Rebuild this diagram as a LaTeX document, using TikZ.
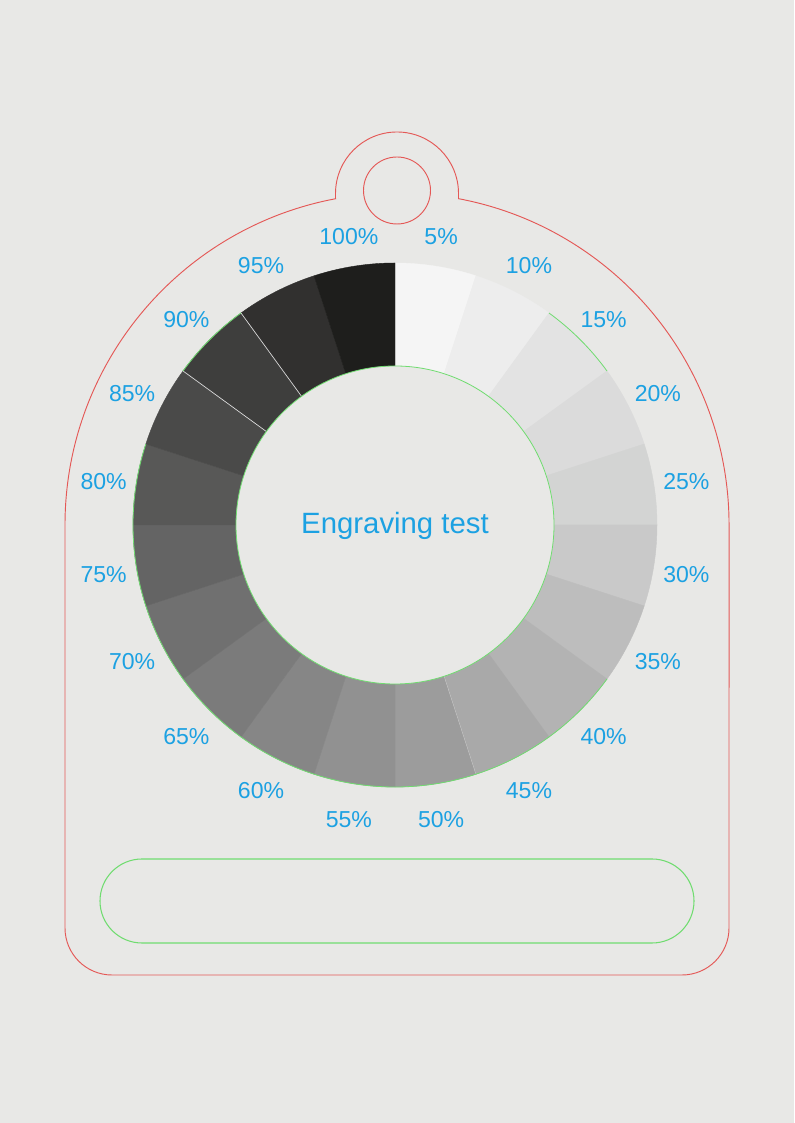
\documentclass[tikz,border=0pt]{standalone}
\usepackage{fontspec}
\setmainfont{Liberation Sans}
\usetikzlibrary{calc}
\definecolor{bg}{HTML}{E8E8E6}
\definecolor{cutred}{RGB}{228,88,86}
\definecolor{markgreen}{RGB}{112,220,112}
\definecolor{labelblue}{RGB}{28,161,226}
\tikzset{
  cutline/.style={draw=cutred, line width=0.7pt},
  markline/.style={draw=markgreen, line width=0.8pt},
  pctlabel/.style={text=labelblue, font=\fontsize{17.3}{17.3}\selectfont, inner sep=0pt},
  titlelabel/.style={text=labelblue, font=\fontsize{22}{22}\selectfont, inner sep=0pt},
}
\begin{document}
\begin{tikzpicture}[x=0.75pt,y=0.75pt]
\fill[bg] (0,0) rectangle (794,1123);
\useasboundingbox (0,0) rectangle (794,1123);
% outer tag outline
\path[cutline] (335.5,924.3) -- (335.5,929.5) arc[start angle=180,end angle=0,radius=61.5]
  -- (458.5,924.3) arc[start angle=79.33,end angle=0,radius=332]
  -- (729,195) arc[start angle=0,end angle=-90,radius=47]
  -- (112,148) arc[start angle=270,end angle=180,radius=47]
  -- (65,598) arc[start angle=180,end angle=100.67,radius=332] -- cycle;
% hole
\path[cutline] (397,932.5) circle[radius=33.5];
% bottom rounded box
\path[markline, rounded corners=31.5pt] (100,180) rectangle (694,264);
% ring
\begin{scope}[shift={(395,598)}]
\foreach \k/\g in {1/F5F5F5,2/EDEDED,3/E3E3E3,4/DBDBDB,5/D3D4D3,6/C9C9C9,7/BDBDBD,8/B3B3B3,9/A9A9A9,10/9C9C9C,11/919191,12/868686,13/7B7B7B,14/707070,15/646464,16/585857,17/4A4A49,18/3E3E3D,19/31302F,20/1E1E1C}{
  \definecolor{seg}{HTML}{\g}
  \pgfmathsetmacro{\aa}{90-18*(\k-1)}
  \pgfmathsetmacro{\ab}{90-18*\k}
  \pgfmathsetmacro{\al}{81-18*(\k-1)}
  \filldraw[fill=seg, draw=seg, line width=0.3pt] (\aa:159) -- (\aa:262) arc[start angle=\aa,end angle=\ab,radius=262] -- (\ab:159) arc[start angle=\ab,end angle=\aa,radius=159] -- cycle;
  \pgfmathtruncatemacro{\pc}{5*\k}
  \node[pctlabel] (lab\k) at ($(\al:295)+(0,-3)$) {\pc\%};
}
% light seams
\draw[white!75!gray, line width=0.5pt] (144:159) -- (144:262);
\draw[white!75!gray, line width=0.5pt] (126:159) -- (126:262);
\draw[white!60!gray, line width=0.3pt] (-72:159) -- (-72:262);
% green outer arcs
\foreach \k in {3,8,9,10,11,12,13,14,15,16,18}{
  \pgfmathsetmacro{\aa}{90-18*(\k-1)}
  \pgfmathsetmacro{\ab}{90-18*\k}
  \draw[markgreen, line width=0.6pt] (\aa:262) arc[start angle=\aa,end angle=\ab,radius=262];
}
% inner circle
\path[markline, fill=bg, line width=0.6pt] (0,0) circle[radius=159];
\node[titlelabel] (title) at (0,-1) {Engraving test};
\end{scope}
\end{tikzpicture}
\end{document}
